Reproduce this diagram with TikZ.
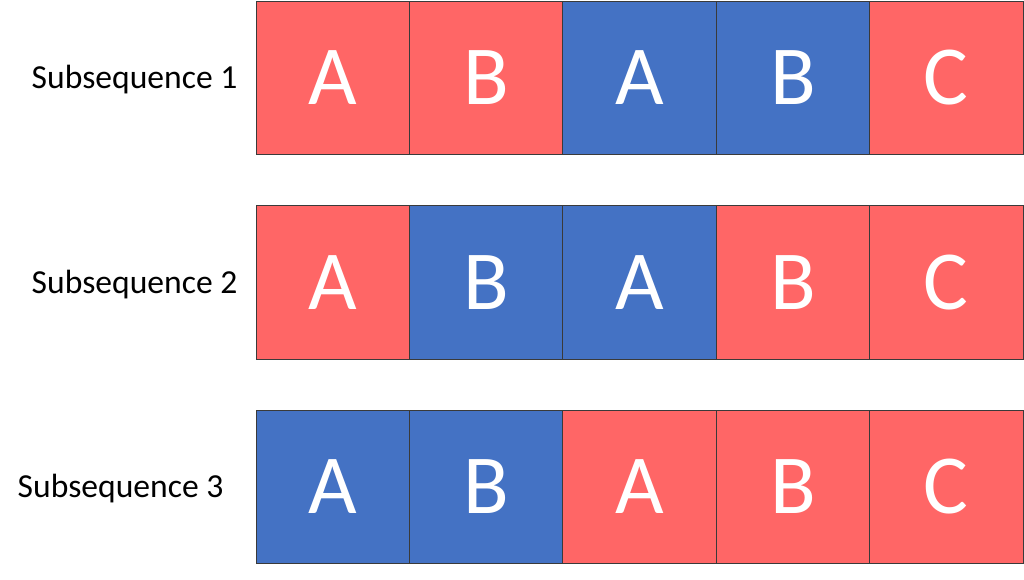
\documentclass[tikz,border=0pt]{standalone}
\usepackage{fontspec}
\setmainfont{Carlito}
\usepackage{tikz}
\usetikzlibrary{positioning}
\tikzstyle{pixelGrid} = [x = 1pt, y = -1pt]
\definecolor{seqRed}{HTML}{FF6666}
\definecolor{seqBlue}{HTML}{4472C4}
\definecolor{cellBorder}{HTML}{3A3A3A}
\tikzstyle{cellStyle} = [draw=cellBorder, line width=0.8pt, minimum width=153.4pt, minimum height=153.4pt, inner sep=0pt, text=white, font=\fontsize{84}{84}\selectfont]
\tikzstyle{rowLabel} = [inner sep=0pt, text height=22pt, text depth=0pt, font=\fontsize{33.6}{40}\selectfont]
\newcommand{\cellSize}{153.4}
\newcommand{\rowGap}{204.5}
\newcommand{\sequenceRow}[3]{
  \foreach \letter/\shade [count=\j] in {#2} {
    \node [cellStyle, fill=\shade] (seq#1-\j) at ({256 + \cellSize/2 + (\j-1)*\cellSize}, {1 + \cellSize/2 + (#1-1)*\rowGap}) {\letter};
  }
  \node [rowLabel, left=#3 of seq#1-1] (label#1) {Subsequence #1};
}
\begin{document}
\begin{tikzpicture}[pixelGrid]
    \useasboundingbox (0,0) rectangle (1024,579);
    \sequenceRow{1}{A/seqRed,B/seqRed,A/seqBlue,B/seqBlue,C/seqRed}{18pt}
    \sequenceRow{2}{A/seqRed,B/seqBlue,A/seqBlue,B/seqRed,C/seqRed}{18pt}
    \sequenceRow{3}{A/seqBlue,B/seqBlue,A/seqRed,B/seqRed,C/seqRed}{32pt}
\end{tikzpicture}
\end{document}
